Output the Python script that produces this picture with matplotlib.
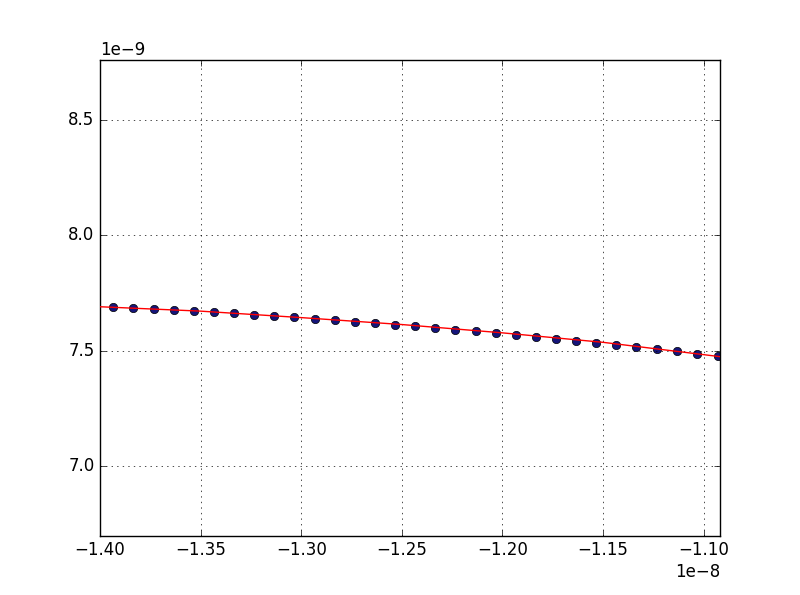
import numpy as np
import matplotlib
matplotlib.use("Agg")
import matplotlib.pyplot as plt

# sample points (x in units of 1e-8, y in units of 1e-9)
x_pts = [-1.3934, -1.3834, -1.3734, -1.3634, -1.3534, -1.3434, -1.3334, -1.3234,
         -1.3134, -1.3034, -1.2934, -1.2834, -1.2734, -1.2634, -1.2534, -1.2434,
         -1.2334, -1.2234, -1.2134, -1.2034, -1.1934, -1.1834, -1.1734, -1.1634,
         -1.1534, -1.1434, -1.1334, -1.1234, -1.1134, -1.1034, -1.0927]
y_pts = [7.687, 7.685, 7.681, 7.676, 7.672, 7.668, 7.663, 7.656,
         7.652, 7.644, 7.637, 7.633, 7.626, 7.620, 7.611, 7.607,
         7.598, 7.591, 7.587, 7.578, 7.568, 7.559, 7.552, 7.543,
         7.535, 7.525, 7.516, 7.507, 7.499, 7.487, 7.475]

# fitted curve
x_fit = [-1.400, -1.350, -1.300, -1.250, -1.200, -1.150, -1.0919]
y_fit = [7.690, 7.671, 7.643, 7.613, 7.577, 7.536, 7.474]

x_lim = [-1.400, -1.0919]
y_lim = [6.70, 8.76]

plt.style.use("classic")
fig, ax = plt.subplots(figsize=(8, 5.95), dpi=100)

ax.plot(np.array(x_pts) * 1e-8, np.array(y_pts) * 1e-9, "o",
        markersize=6, markerfacecolor="#15157a", markeredgecolor="k", zorder=2)
ax.plot(np.array(x_fit) * 1e-8, np.array(y_fit) * 1e-9, "r-", zorder=3)

ax.set_xlim(x_lim[0] * 1e-8, x_lim[1] * 1e-8)
ax.set_ylim(y_lim[0] * 1e-9, y_lim[1] * 1e-9)
ax.grid(True)

fig.savefig("out.png", dpi=100)
